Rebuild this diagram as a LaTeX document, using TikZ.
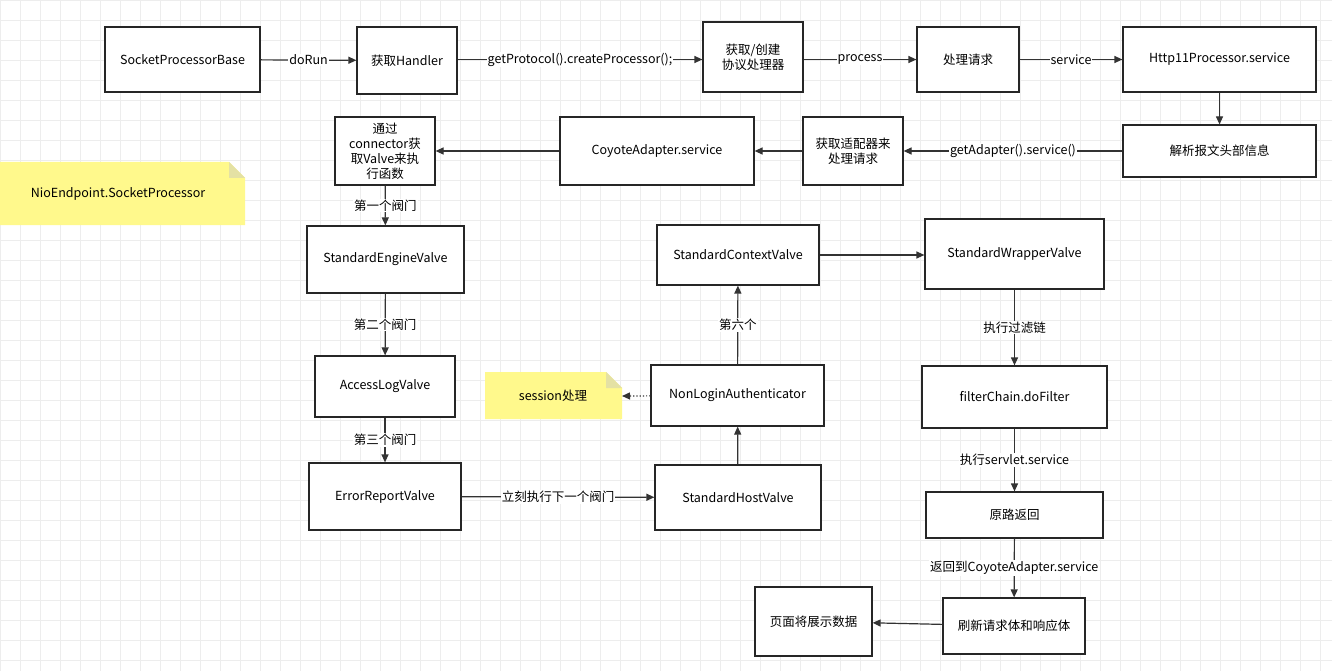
\documentclass[tikz,border=0pt]{standalone}
\usepackage{fontspec}
\setmainfont{Noto Sans CJK SC}
\usetikzlibrary{arrows.meta}
\begin{document}
\begin{tikzpicture}[x=1pt,y=-1pt,
  box/.style={draw=black!85,line width=1.2pt,fill=white,inner sep=0pt,align=center,font=\fontsize{12.5}{15}\selectfont},
  note/.style={fill=yellow!45!white,draw=none,inner sep=0pt,font=\fontsize{12.5}{15}\selectfont},
  arr/.style={draw=black!80,line width=1.2pt,-{Triangle[length=8pt,width=7pt]}},
  lab/.style={fill=white,inner sep=1pt,font=\fontsize{12.5}{15}\selectfont}]
\useasboundingbox (0,0) rectangle (1332,671);
\fill[white] (0,0) rectangle (1332,671);
\foreach \x in {0,20,...,1332} \draw[black!7,line width=0.5pt] (\x,0) -- (\x,671);
\foreach \y in {0,20,...,671} \draw[black!7,line width=0.5pt] (0,\y) -- (1332,\y);
\newcommand{\bx}[6][]{\node[box,#1,minimum width=#4-#2,minimum height=#5-#3] (#6) at ({(#2+#4)/2},{(#3+#5)/2})}
\bx{105}{27}{260}{92}{spb}{SocketProcessorBase};
\bx{357}{27}{457}{94}{hdl}{获取Handler};
\bx{703}{22}{803}{92}{cre}{获取/创建\\协议处理器};
\bx{917}{27}{1019}{92}{req}{处理请求};
\bx{1123}{27}{1316}{92}{h11}{Http11Processor.service};
\bx{1123}{125}{1316}{177}{par}{解析报文头部信息};
\bx{803}{117}{903}{185}{ada}{获取适配器来\\处理请求};
\bx{560}{117}{754}{185}{coy}{CoyoteAdapter.service};
\bx{335}{117}{435}{185}{con}{通过\\connector获\\取Valve来执\\行函数};
\bx{307}{226}{464}{293}{eng}{StandardEngineValve};
\bx{315}{356}{455}{417}{acc}{AccessLogValve};
\bx{309}{463}{461}{530}{err}{ErrorReportValve};
\bx{655}{465}{821}{530}{hst}{StandardHostValve};
\bx{651}{365}{824}{426}{nla}{NonLoginAuthenticator};
\bx{657}{225}{819}{285}{ctx}{StandardContextValve};
\bx{925}{219}{1104}{289}{wrp}{StandardWrapperValve};
\bx{922}{366}{1107}{428}{flt}{filterChain.doFilter};
\bx{926}{492}{1103}{538}{ret}{原路返回};
\bx{943}{598}{1085}{654}{ref}{刷新请求体和响应体};
\bx{755}{587}{872}{656}{pag}{页面将展示数据};
% notes
\fill[yellow!45!white] (0,162) -- (229,162) -- (245,178) -- (245,225) -- (0,225) -- cycle;
\fill[yellow!70!black!40] (229,162) -- (229,178) -- (245,178) -- cycle;
\node[note] (n1) at (118,194) {NioEndpoint.SocketProcessor};
\fill[yellow!45!white] (485,372) -- (606,372) -- (622,388) -- (622,419) -- (485,419) -- cycle;
\fill[yellow!70!black!40] (606,372) -- (606,388) -- (622,388) -- cycle;
\coordinate (sesR) at (622,396);
\node[note] (ses) at (553,396) {session处理};
% edges
\draw[arr] (spb) -- node[lab]{doRun} (hdl);
\draw[arr] (hdl.east|-spb) -- node[lab]{getProtocol().createProcessor();} (cre.west|-spb);
\draw[arr] (cre.east|-spb) -- node[lab]{process} (req.west|-spb);
\draw[arr] (req.east|-spb) -- node[lab]{service} (h11.west|-spb);
\draw[arr] (h11) -- (par);
\draw[arr] (par.west|-ada) -- node[lab]{getAdapter().service()} (ada);
\draw[arr] (ada) -- (coy);
\draw[arr] (coy) -- (con);
\draw[arr] (con) -- node[lab]{第一个阀门} (eng);
\draw[arr] (eng) -- node[lab]{第二个阀门} (acc);
\draw[arr] (acc) -- node[lab]{第三个阀门} (err);
\draw[arr] (err) -- node[lab]{立刻执行下一个阀门} (hst);
\draw[arr] (hst) -- (nla);
\draw[arr,dotted] (nla) -- (sesR);
\draw[arr] (nla) -- node[lab]{第六个} (ctx);
\draw[arr] (ctx) -- (wrp.west|-ctx);
\draw[arr] (wrp) -- node[lab]{执行过滤链} (flt);
\draw[arr] (flt) -- node[lab]{执行servlet.service} (ret);
\draw[arr] (ret) -- node[lab]{返回到CoyoteAdapter.service} (ref);
\draw[arr] (ref) -- (pag);
\end{tikzpicture}
\end{document}
